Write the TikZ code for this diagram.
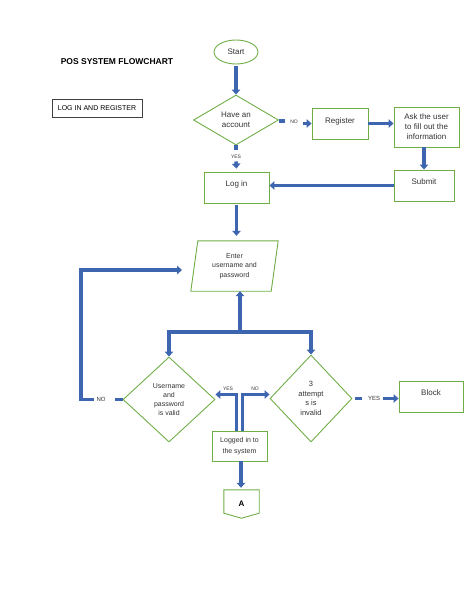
\documentclass[tikz,border=0pt]{standalone}
\usepackage{fontspec}
\setmainfont{Liberation Sans}
\usetikzlibrary{shapes.geometric,arrows.meta}
\definecolor{boxgreen}{HTML}{70AD47}
\definecolor{arrblue}{HTML}{3D65B0}
\definecolor{txt}{HTML}{333333}
\tikzset{
  every node/.style={text=txt},
  gbox/.style={draw=boxgreen, line width=0.9pt, rectangle, align=center, inner sep=1pt, font=\fontsize{8}{10}\selectfont},
  gdia/.style={draw=boxgreen, line width=0.9pt, diamond, align=center, inner sep=0pt, font=\fontsize{7}{9}\selectfont},
  arr/.style={draw=arrblue, line width=3.6pt, -{Triangle[length=5pt,width=8.5pt]}},
  bar/.style={draw=arrblue, line width=3.6pt},
  tiny/.style={font=\fontsize{5}{6}\selectfont, inner sep=0.5pt},
}
\begin{document}
\begin{tikzpicture}[x=1pt,y=-1pt]
\useasboundingbox (0,0) rectangle (474,613);

% title and legend
\node[font=\bfseries\fontsize{8.5}{10}\selectfont, text=black] (title) at (117,62) {POS SYSTEM FLOWCHART};
\node[draw=black!75, line width=0.8pt, minimum width=90pt, minimum height=18pt, inner sep=0pt, font=\fontsize{7}{8}\selectfont, text=black] (legend) at (97,108) {LOG IN AND REGISTER};

% nodes
\node[ellipse, draw=boxgreen, line width=0.9pt, minimum width=44pt, minimum height=24pt, inner sep=0pt, font=\fontsize{8}{10}\selectfont] (start) at (236,52) {Start};
\node[gdia, minimum width=85pt, minimum height=50pt, font=\fontsize{8}{10}\selectfont] (d1) at (236,120) {Have an\\account};
\node[gbox, minimum width=56pt, minimum height=31pt] (register) at (340,123.5) {};
\node[font=\fontsize{8}{10}\selectfont] (registertxt) at (340,121) {Register};
\node[gbox, minimum width=65pt, minimum height=40pt] (ask) at (426.5,127) {Ask the user\\to fill out the\\information};
\node[gbox, minimum width=60pt, minimum height=31pt] (submit) at (424,185.5) {};
\node[font=\fontsize{8}{10}\selectfont] (submittxt) at (424,182) {Submit};
\node[gbox, minimum width=65pt, minimum height=31pt] (login) at (236.5,187.5) {};
\node[font=\fontsize{8}{10}\selectfont] (logintxt) at (236.5,184) {Log in};

\node[minimum width=80pt, minimum height=50pt, inner sep=0pt, align=center, font=\fontsize{7}{9.5}\selectfont] (enter) at (234.5,266) {Enter\\username and\\password};
\draw[boxgreen, line width=0.9pt] ([xshift=3.5pt]enter.north west) -- ([xshift=3.5pt]enter.north east) -- ([xshift=-3.5pt]enter.south east) -- ([xshift=-3.5pt]enter.south west) -- cycle;

\node[gdia, minimum width=92pt, minimum height=85pt] (d2) at (169,399.5) {Username\\and\\password\\is valid};
\node[gdia, minimum width=82pt, minimum height=87pt, font=\fontsize{7.5}{9.5}\selectfont] (d3) at (311,398.5) {3\\attempt\\s is\\invalid};
\node[gbox, minimum width=55pt, minimum height=30pt, font=\fontsize{7}{11}\selectfont] (logged) at (239.5,446) {Logged in to\\the system};
\node[gbox, minimum width=64pt, minimum height=31pt] (block) at (431,396.5) {};
\node[font=\fontsize{8}{10}\selectfont] (blocktxt) at (431,393) {Block};

\node[minimum width=35pt, minimum height=28pt, inner sep=0pt, font=\bfseries\fontsize{8}{10}\selectfont, text=black] (A) at (241.5,504) {A};
\draw[boxgreen, line width=0.9pt] (A.north west) -- (A.north east) -- ([yshift=5pt]A.south east) -- (A.south) -- ([yshift=5pt]A.south west) -- cycle;

% connectors
\draw[arr] ([yshift=-2pt]start.south) -- (d1.north);
% NO to register
\node[tiny] (no1) at (294,121.5) {NO};
\draw[bar] ([yshift=-1pt]d1.east) -- ++(6,0);
\draw[arr] (no1.east |- register.west) ++(5,0) -- (register.west);
\draw[arr] (register.east) -- (register.east -| ask.west);
\draw[arr] (ask.south -| submit.north) -- (submit.north);
\draw[arr] (submit.west) -- (submit.west -| login.east);
% YES to log in
\node[tiny] (yes1) at (236,157) {YES};
\draw[bar] (d1.south) -- ++(0,5);
\draw[arr] ([yshift=-2pt]yes1.south) -- ([yshift=3pt]login.north);
\draw[arr] ([yshift=-2pt]login.south) -- ([yshift=5pt]login.south |- enter.north);

% bar below enter
\coordinate (barmid) at (240,332);
\draw[arr] (barmid) -- ([xshift=5.5pt]enter.south);
\draw[bar] (barmid -| d2.north) -- (barmid -| d3.north);
\draw[arr] ([yshift=1.8pt]barmid -| d2.north) -- (d2.north);
\draw[arr] ([yshift=1.8pt]barmid -| d3.north) -- (d3.north);

% NO loop back
\node[tiny, font=\fontsize{6}{7}\selectfont] (no2) at (101,399.5) {NO};
\coordinate (loopin) at (182,270);
\draw[bar] (d2.west) -- ++(-8,0);
\draw[arr] ([xshift=-2pt]no2.west) -- (81,399.5) -- (81,270) -- (loopin);

% from logged in up
\node[tiny] (yes2) at (228,389) {YES};
\node[tiny] (no3) at (255,389) {NO};
\draw[arr] ([xshift=-3pt]logged.north) |- ([yshift=5pt]d2.east);
\draw[arr] ([xshift=3pt]logged.north) |- ([yshift=4pt]d3.west);
\draw[arr] ([xshift=1.5pt]logged.south) -- ([xshift=1.5pt,yshift=2pt]logged.south |- A.north);

% YES to block
\node[tiny, font=\fontsize{6}{7}\selectfont] (yes3) at (374,398.5) {YES};
\draw[bar] ([xshift=3pt]d3.east) -- ++(7,0);
\draw[arr] ([xshift=2pt]yes3.east) -- (yes3.east -| block.west);
\end{tikzpicture}
\end{document}
